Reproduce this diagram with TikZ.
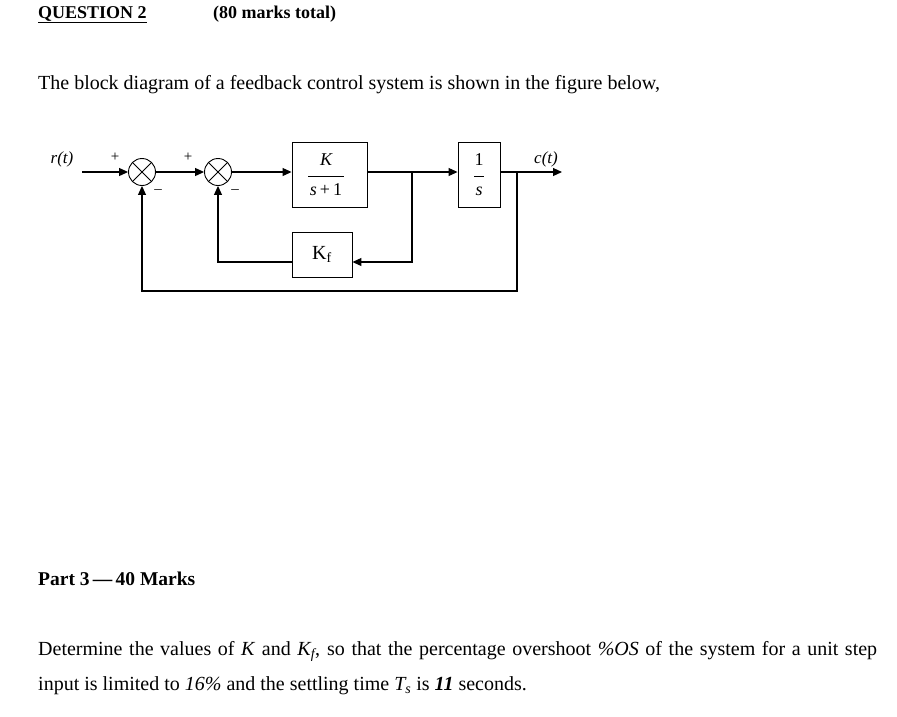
\documentclass[tikz,border=0pt]{standalone}
\usepackage{fontspec}
\setmainfont{Liberation Serif}
\usetikzlibrary{arrows.meta}
\begin{document}
\begin{tikzpicture}[x=1pt,y=-1pt,
  txt/.style={anchor=base west,inner sep=0,font=\fontsize{20}{24}\selectfont},
  lbl/.style={inner sep=0,font=\fontsize{18}{21}\selectfont},
  blk/.style={draw,line width=0.9pt,inner sep=0},
  sumj/.style={draw,circle,line width=0.9pt,minimum size=27pt,inner sep=0,path picture={\draw[line width=0.9pt] (path picture bounding box.north west)--(path picture bounding box.south east) (path picture bounding box.north east)--(path picture bounding box.south west);}},
  ln/.style={line width=1.1pt},
  ar/.style={ln,-{Triangle[length=9pt,width=8pt]}}]
\useasboundingbox (0,0) rectangle (897,716);
\node[txt,font=\fontsize{18}{21}\selectfont\bfseries] (q) at (38,18) {\underline{QUESTION 2}};
\node[txt,font=\fontsize{18}{21}\selectfont\bfseries] (m) at (213,18) {(80 marks total)};
\node[txt] (intro) at (38,89) {The block diagram of a feedback control system is shown in the figure below,};
% diagram
\coordinate (in) at (82,172);
\node[sumj] (s1) at (142,172) {};
\node[sumj] (s2) at (218,172) {};
\node[blk,minimum width=75pt,minimum height=65pt] (g1) at (329.5,174.5) {};
\node[lbl] (num) at (326,160) {\itshape K};
\draw[line width=0.7pt] (308,176)--(344,176);
\node[lbl] (den) at (326,190) {\itshape s\,\upshape+\,1};
\node[blk,minimum width=42pt,minimum height=65pt] (g2) at (479,174.5) {};
\node[lbl] (n2) at (479,160) {1};
\draw[line width=0.7pt] (474,176)--(484,176);
\node[lbl] (d2) at (479,191) {\itshape s};
\node[blk,minimum width=60pt,minimum height=45pt,font=\fontsize{20}{23}\selectfont] (kf) at (322,254.5) {K\textsubscript{f}};
\coordinate (b1) at (412,172);
\coordinate (b2) at (517,172);
\coordinate (out) at (562,172);
\draw[ar] (in) -- (s1.west);
\draw[ar] (s1.east) -- (s2.west);
\draw[ar] (s2.east) -- (g1.west |- s2.east);
\draw[ln] (g1.east |- s2.east) -- (b1);
\draw[ar] (b1) -- (g2.west |- b1);
\draw[ar] (g2.east |- b1) -- (out);
\draw[ar] (b1) |- (kf.east |- 0,262);
\draw[ar] (kf.west |- 0,262) -| (s2.south);
\draw[ar] (b2) |- (142,291) -- (s1.south);
\node[lbl,font=\fontsize{17}{20}\selectfont\itshape] (r) at (62,159) {r(t)};
\node[lbl,font=\fontsize{17}{20}\selectfont\itshape] (c) at (546,159) {c(t)};
\node[lbl,font=\fontsize{15}{17}\selectfont] (p1) at (115,157) {+};
\node[lbl,font=\fontsize{15}{17}\selectfont] (m1) at (158,192) {--};
\node[lbl,font=\fontsize{15}{17}\selectfont] (p2) at (188,157) {+};
\node[lbl,font=\fontsize{15}{17}\selectfont] (m2) at (235,192) {--};
\node[txt,font=\fontsize{19.5}{23}\selectfont\bfseries] (part) at (38,585) {Part 3\,---\,40 Marks};
\node[anchor=north west,inner sep=0,text width=839pt,align=justify,font=\fontsize{20}{35}\selectfont] (det) at (38,641) {Determine the values of \textit{K} and \textit{K\textsubscript{f}}, so that the percentage overshoot \textit{\%OS} of the system for a unit step\linebreak input is limited to \textit{16\%} and the settling time \textit{T\textsubscript{s}} is \textit{\textbf{11}} seconds.};
\end{tikzpicture}
\end{document}
